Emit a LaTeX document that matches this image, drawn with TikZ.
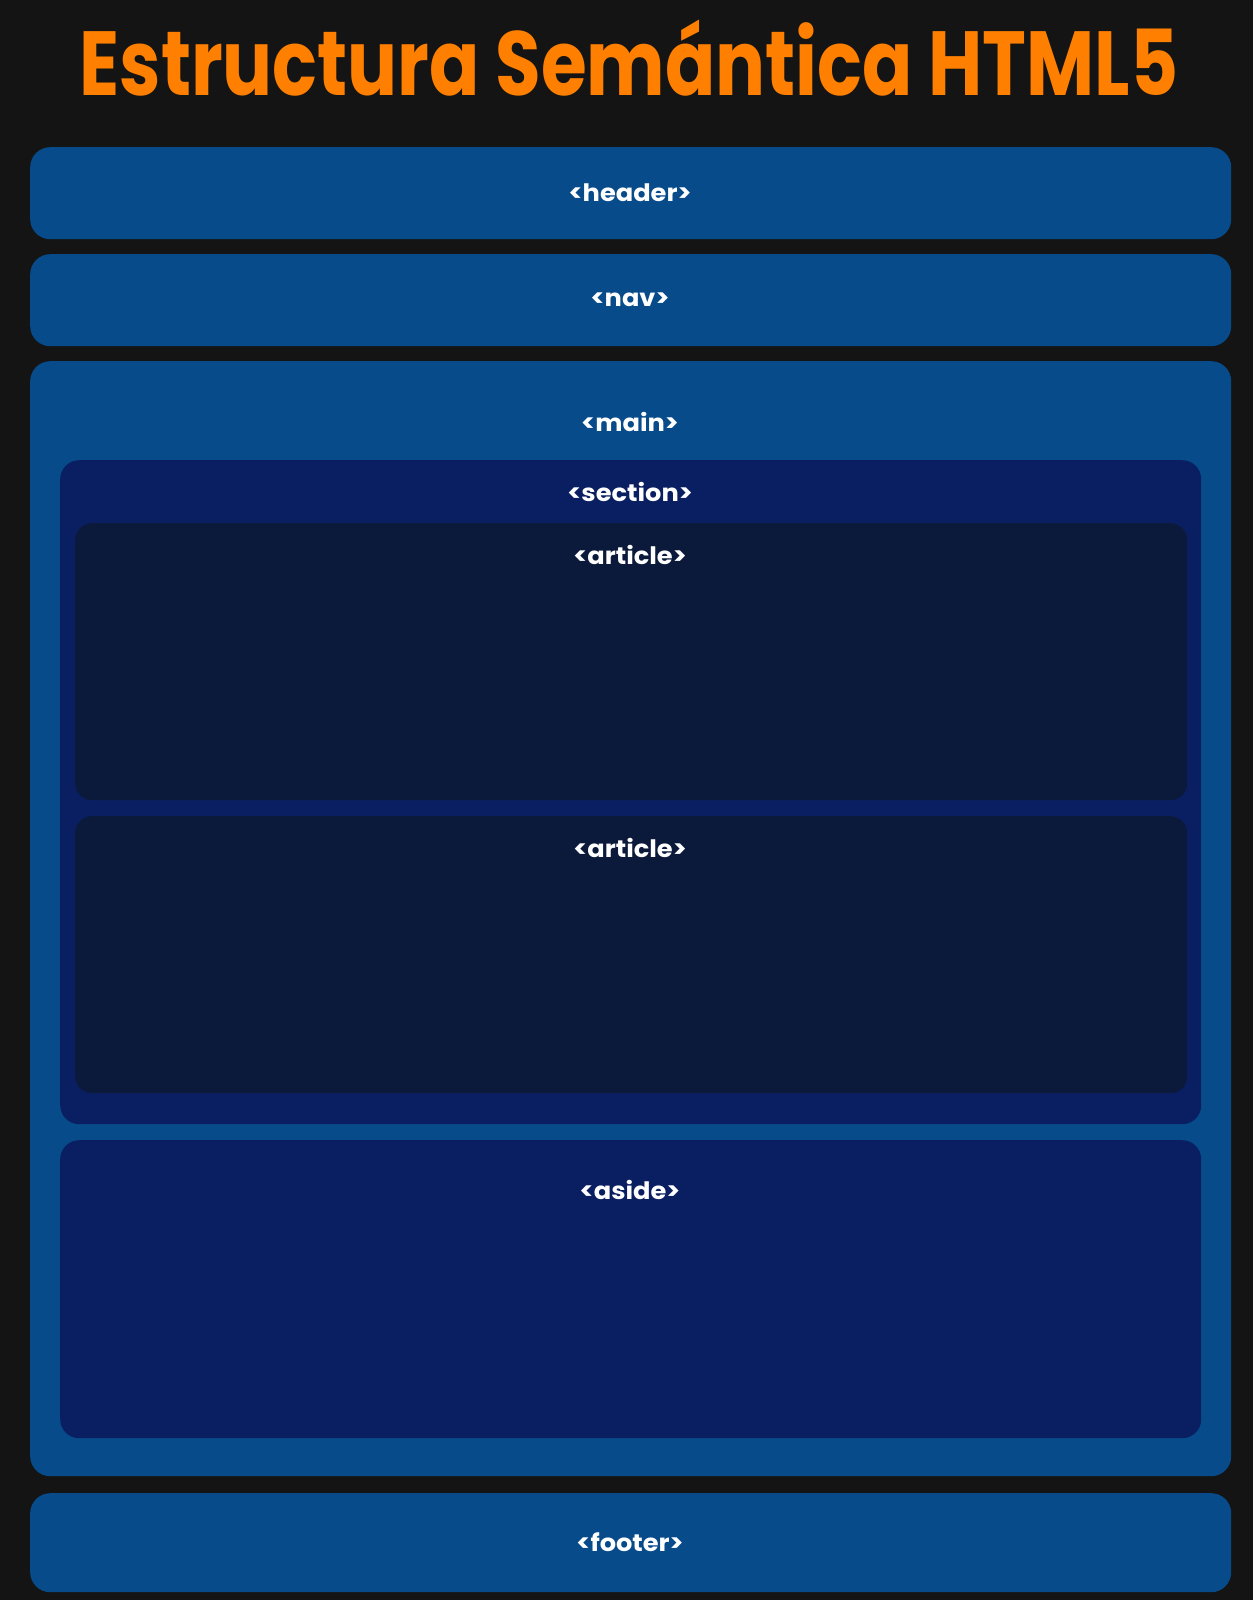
\documentclass[tikz,border=0pt]{standalone}
\usepackage{fontspec}
\setmainfont{Poppins}
\usetikzlibrary{positioning}
\definecolor{bgc}{RGB}{20,20,20}
\definecolor{orangec}{RGB}{255,128,0}
\definecolor{bluec}{RGB}{7,75,138}
\definecolor{navyc}{RGB}{10,31,97}
\definecolor{deepc}{RGB}{11,25,58}
\tikzset{
  block/.style={fill=bluec, draw=none, rounded corners=20pt, inner sep=0pt, anchor=north west},
  sectbox/.style={fill=navyc, draw=none, rounded corners=19pt, inner sep=0pt, anchor=north west},
  artbox/.style={fill=deepc, draw=none, rounded corners=17pt, inner sep=0pt, anchor=north west},
  tag/.style={text=white, font=\bfseries\fontsize{24}{24}\selectfont, inner sep=0pt, anchor=center},
  titlestyle/.style={text=orangec, font=\bfseries\fontsize{91}{91}\selectfont, inner sep=0pt, anchor=base}
}
\begin{document}
\begin{tikzpicture}[x=1pt,y=-1pt]
\fill[bgc] (0,0) rectangle (1253,1600);
\useasboundingbox (0,0) rectangle (1253,1600);
\node[titlestyle] (title) at (629,96) {\scalebox{0.815}[1]{Estructura Semántica HTML5}};
\node[block, minimum width=1201pt, minimum height=92pt] (header) at (30,147) {};
\node[block, minimum width=1201pt, minimum height=92pt] (nav) at (30,254) {};
\node[block, minimum width=1201pt, minimum height=1115pt] (main) at (30,361) {};
\node[sectbox, minimum width=1141pt, minimum height=664pt] (section) at (60,460) {};
\node[artbox, minimum width=1112pt, minimum height=277pt] (article1) at (75,523) {};
\node[artbox, minimum width=1112pt, minimum height=277pt] (article2) at (75,816) {};
\node[sectbox, minimum width=1141pt, minimum height=298pt] (aside) at (60,1140) {};
\node[block, minimum width=1201pt, minimum height=99pt] (footer) at (30,1493) {};
\node[tag] (headerlbl) at (630,193) {\scalebox{1.07}[1]{<header>}};
\node[tag] (navlbl) at (630,300) {\scalebox{1.07}[1]{<nav>}};
\node[tag] (mainlbl) at (630,422) {\scalebox{1.07}[1]{<main>}};
\node[tag] (sectionlbl) at (630,492) {\scalebox{1.07}[1]{<section>}};
\node[tag] (article1lbl) at (630,555) {\scalebox{1.07}[1]{<article>}};
\node[tag] (article2lbl) at (630,848) {\scalebox{1.07}[1]{<article>}};
\node[tag] (asidelbl) at (630,1190) {\scalebox{1.07}[1]{<aside>}};
\node[tag] (footerlbl) at (630,1542) {\scalebox{1.07}[1]{<footer>}};
\end{tikzpicture}
\end{document}
